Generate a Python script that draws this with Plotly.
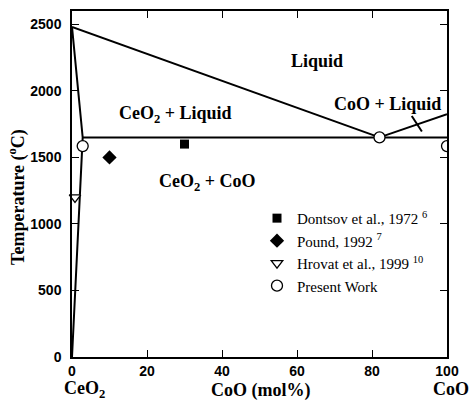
import plotly.graph_objects as go

# Phase boundary lines (CoO mol%, Temperature °C)
liq_ceo2_x = [0, 82]
liq_ceo2_y = [2480, 1650]
liq_coo_x = [82, 100]
liq_coo_y = [1650, 1825]
eut_x = [2.85, 100]
eut_y = [1650, 1650]
solvus_x = [0, 2.85, 0]
solvus_y = [2480, 1650, 0]
pointer_x = [90.6, 93.3]
pointer_y = [1811, 1694]

# Experimental data
dontsov_x = [30]
dontsov_y = [1600]
pound_x = [10]
pound_y = [1500]
hrovat_x = [0.8]
hrovat_y = [1200]
present_x = [2.85, 82, 100]
present_y = [1585, 1650, 1585]

xticks = [0, 20, 40, 60, 80, 100]
yticks = [0, 500, 1000, 1500, 2000, 2500]

fig = go.Figure()
line = dict(color="black", width=2)
for xs, ys in [(liq_ceo2_x, liq_ceo2_y), (liq_coo_x, liq_coo_y), (eut_x, eut_y),
               (solvus_x, solvus_y), (pointer_x, pointer_y)]:
    fig.add_trace(go.Scatter(x=xs, y=ys, mode="lines", line=line, showlegend=False,
                             hoverinfo="skip"))

fig.add_trace(go.Scatter(x=dontsov_x, y=dontsov_y, mode="markers",
                         name="Dontsov et al., 1972 <sup>6</sup>",
                         marker=dict(symbol="square", size=9, color="black")))
fig.add_trace(go.Scatter(x=pound_x, y=pound_y, mode="markers",
                         name="Pound, 1992 <sup>7</sup>",
                         marker=dict(symbol="diamond", size=11, color="black")))
fig.add_trace(go.Scatter(x=hrovat_x, y=hrovat_y, mode="markers", cliponaxis=False,
                         name="Hrovat et al., 1999 <sup>10</sup>",
                         marker=dict(symbol="triangle-down", size=10, color="white",
                                     line=dict(color="black", width=1.3))))
fig.add_trace(go.Scatter(x=present_x, y=present_y, mode="markers",
                         name="Present Work",
                         marker=dict(symbol="circle", size=11, color="white",
                                     line=dict(color="black", width=1.3))))

serif = "Liberation Serif"
sans = "Liberation Sans"
lab = dict(family=serif, size=18, color="black", weight="bold")

def px2x(px):
    return (px - 72) / 375

def py2y(py):
    return (357 - py) / 348

def ann(x, y, text, xref="x", yref="y", xanchor="center", **kw):
    return dict(x=x, y=y, xref=xref, yref=yref, text=text, showarrow=False, font=lab,
                xanchor=xanchor, yanchor="middle", **kw)

annotations = [
    ann(65.3, 2223, "Liquid"),
    ann(27.7, 1826, "CeO<sub>2</sub> + Liquid"),
    ann(84, 1900, "CoO + Liquid"),
    ann(36, 1310, "CeO<sub>2</sub> + CoO"),
    ann(px2x(260), py2y(391), "CoO (mol%)", "paper", "paper"),
    ann(px2x(62), py2y(390), "CeO<sub>2</sub>", "paper", "paper", xanchor="left"),
    ann(px2x(471), py2y(389), "CoO", "paper", "paper", xanchor="right"),
    ann(px2x(17), py2y(196), "Temperature (<sup>o</sup>C)", "paper", "paper", textangle=-90),
]

axis_common = dict(showline=True, linecolor="black", linewidth=1.5, mirror="ticks",
                   ticks="inside", ticklen=7, tickwidth=1.2, tickcolor="black",
                   showgrid=False, zeroline=False,
                   tickfont=dict(family=sans, size=14, color="black", weight="bold"))

fig.update_layout(
    width=474, height=405,
    margin=dict(l=72, r=27, t=9, b=48),
    paper_bgcolor="white", plot_bgcolor="white",
    xaxis=dict(range=[0, 100], tickvals=xticks, ticklabelstandoff=0, **axis_common),
    yaxis=dict(range=[0, 2600], tickvals=yticks, ticklabelstandoff=6, **axis_common),
    annotations=annotations,
    showlegend=True,
    legend=dict(x=px2x(257), y=py2y(201), xanchor="left", yanchor="top",
                bgcolor="rgba(0,0,0,0)",
                font=dict(family=serif, size=15, color="black", weight="normal")),
)

fig.write_html("out.html")
